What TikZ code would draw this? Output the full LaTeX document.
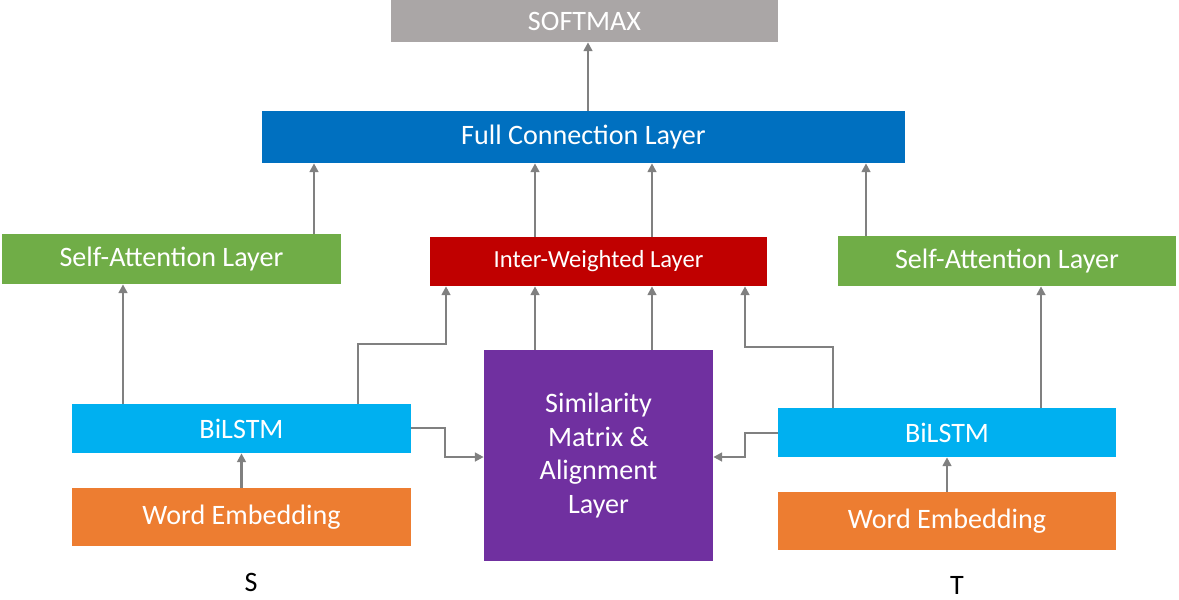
\documentclass[tikz,border=0pt]{standalone}
\usepackage{fontspec}
\setmainfont{Carlito}
\usetikzlibrary{arrows.meta}
\definecolor{smgray}{RGB}{170,166,166}
\definecolor{fcblue}{RGB}{0,112,192}
\definecolor{sagreen}{RGB}{112,173,71}
\definecolor{iwred}{RGB}{192,0,0}
\definecolor{lstmcyan}{RGB}{0,176,240}
\definecolor{weorange}{RGB}{237,125,49}
\definecolor{simpurple}{RGB}{112,48,160}
\definecolor{arrgray}{RGB}{128,128,128}
\begin{document}
\begin{tikzpicture}[x=0.02cm,y=-0.02cm,
  box/.style={draw=none, inner sep=0pt, text=white, align=center, font=\fontsize{16}{19}\selectfont},
  arrow/.style={-{Triangle[length=5pt,width=5pt]}, arrgray, line width=1.2pt}
]
\useasboundingbox (0,0) rectangle (1179,599);
% boxes (corner-to-corner in pixel units)
\node[box, fill=smgray, minimum width=7.74cm, minimum height=0.84cm] (sm) at (584.5,21) {SOFTMAX};
\node[box, fill=fcblue, minimum width=12.86cm, minimum height=1.04cm] (fc) at (583.5,137) {Full Connection Layer};
\node[box, fill=sagreen, minimum width=6.78cm, minimum height=1.0cm] (sal) at (171.5,259) {Self-Attention Layer};
\node[box, fill=iwred, minimum width=6.74cm, minimum height=0.98cm, font=\fontsize{14}{17}\selectfont] (iw) at (598.5,261.5) {Inter-Weighted Layer};
\node[box, fill=sagreen, minimum width=6.76cm, minimum height=1.0cm] (sar) at (1007,261) {Self-Attention Layer};
\node[box, fill=lstmcyan, minimum width=6.78cm, minimum height=0.98cm] (bl) at (241.5,428.5) {BiLSTM};
\node[box, fill=weorange, minimum width=6.78cm, minimum height=1.16cm] (wl) at (241.5,517) {Word Embedding};
\node[box, fill=simpurple, minimum width=4.58cm, minimum height=4.22cm] (sim) at (598.5,455.5) {Similarity\\Matrix \&\\Alignment\\Layer};
\node[box, fill=lstmcyan, minimum width=6.76cm, minimum height=0.98cm] (br) at (947,432.5) {BiLSTM};
\node[box, fill=weorange, minimum width=6.76cm, minimum height=1.16cm] (wr) at (947,521) {Word Embedding};
\node[font=\fontsize{16}{19}\selectfont] (s) at (251,582) {S};
\node[font=\fontsize{16}{19}\selectfont] (t) at (957,585) {T};
% arrows
\draw[arrow] (fc.north -| 588,0) -- (sm.south -| 588,0);
\draw[arrow] (sal.north -| 314,0) -- (fc.south -| 314,0);
\draw[arrow] (iw.north -| 535,0) -- (fc.south -| 535,0);
\draw[arrow] (iw.north -| 652,0) -- (fc.south -| 652,0);
\draw[arrow] (sar.north -| 866,0) -- (fc.south -| 866,0);
\draw[arrow] (bl.north -| 123,0) -- (sal.south -| 123,0);
\draw[arrow] (br.north -| 1041,0) -- (sar.south -| 1041,0);
\draw[arrow] (sim.north -| 535,0) -- (iw.south -| 535,0);
\draw[arrow] (sim.north -| 652,0) -- (iw.south -| 652,0);
\draw[arrow] (bl.north -| 358,0) |- (446,344) -- (iw.south -| 446,0);
\draw[arrow] (br.north -| 833,0) |- (745,347) -- (iw.south -| 745,0);
\draw[arrow] (wl.north) -- (bl.south);
\draw[arrow] (wr.north) -- (br.south);
\draw[arrow] (bl.east |- 0,428) -| (445,457) -- (sim.west |- 0,457);
\draw[arrow] (br.west |- 0,433) -| (745,457) -- (sim.east |- 0,457);
\end{tikzpicture}
\end{document}
